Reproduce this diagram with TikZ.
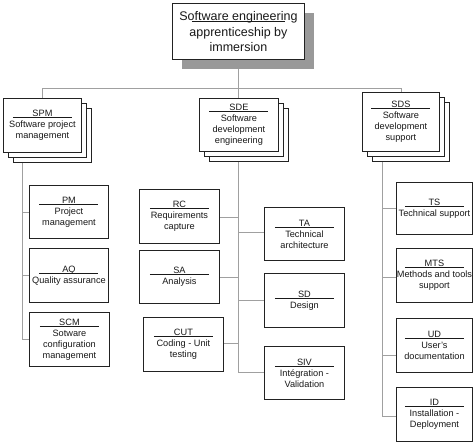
\documentclass[tikz,border=0pt]{standalone}
\usepackage{fontspec}
\setmainfont{Liberation Sans}
\usetikzlibrary{shadows,backgrounds}
\definecolor{boxc}{HTML}{222222}
\definecolor{connc}{HTML}{A0A0A0}
\definecolor{shadc}{HTML}{999999}
\newcommand{\ttl}[2][59pt]{\leavevmode\rlap{\rule[-1.4pt]{#1}{0.8pt}}\makebox[#1]{#2}}
\begin{document}
\begin{tikzpicture}[x=1pt,y=-1pt,
  box/.style={draw=boxc, fill=white, line width=0.9pt, inner sep=0pt, align=center,
    anchor=north west, font=\fontsize{9.2}{11}\selectfont, text=black!90},
  stackbox/.style={box, double copy shadow={shadow xshift=4.8pt, shadow yshift=-4.8pt,
    draw=boxc, fill=white, line width=0.9pt}},
  topbox/.style={box, font=\fontsize{12.5}{14.5}\selectfont,
    drop shadow={shadow xshift=10pt, shadow yshift=-10pt, fill=shadc, opacity=1}},
  conn/.style={draw=connc, line width=0.8pt},
  sz/.style 2 args={minimum width=#1pt, minimum height=#2pt}]
\useasboundingbox (0,0) rectangle (474,442);

% top
\node[topbox, sz={132}{56}] (top) at (172,3)
  {\ttl[93pt]{Software engineering}\\[2pt]apprenticeship by\\immersion};

% second level
\node[stackbox, sz={78}{54}] (spm) at (3,98) {\ttl{SPM}\\Software project\\management};
\node[stackbox, sz={79}{53}] (sde) at (199,98) {\ttl{SDE}\\Software\\development\\engineering};
\node[stackbox, sz={77}{59}] (sds) at (362,92) {\ttl{SDS}\\Software\\development\\support};

% SPM children
\node[box, sz={79}{53}] (pm) at (29,185) {\ttl{PM}\\Project\\management};
\node[box, sz={79}{54}] (aq) at (29,248) {\ttl{AQ}\\Quality assurance};
\node[box, sz={80}{54}] (scm) at (29,312) {\ttl{SCM}\\Sotware\\configuration\\management};

% SDE children
\node[box, sz={80}{54}] (rc) at (139,189) {\ttl{RC}\\Requirements\\capture};
\node[box, sz={80}{53}] (sa) at (139,250) {\ttl{SA}\\Analysis};
\node[box, sz={80}{54}] (cut) at (143,317) {\ttl{CUT}\\Coding - Unit\\testing};
\node[box, sz={80}{53}] (ta) at (264,207) {\ttl{TA}\\Technical\\architecture};
\node[box, sz={80}{54}] (sd) at (264,273) {\ttl{SD}\\Design};
\node[box, sz={80}{53}] (siv) at (264,346) {\ttl{SIV}\\Intégration -\\Validation};

% SDS children
\node[box, sz={76}{52}] (ts) at (396,182) {\ttl{TS}\\Technical support};
\node[box, sz={76}{54}] (mts) at (396,248) {\ttl{MTS}\\Methods and tools\\support};
\node[box, sz={76}{54}] (ud) at (396,318) {\ttl{UD}\\User's\\documentation};
\node[box, sz={76}{54}] (id) at (396,387) {\ttl{ID}\\Installation -\\Deployment};

\begin{scope}[on background layer]
  \coordinate (hy) at (0,88);
  \draw[conn] (spm.north) -- (spm.north |- hy) -- (sds.north |- hy) -- (sds.north);
  \draw[conn] (top.south) -- (top.south |- hy);
  % SPM bus
  \coordinate (spmb) at (22,339);
  \draw[conn] (spmb |- spm.center) -- (spmb);
  \foreach \n/\y in {pm/212, aq/275, scm/339} {
    \coordinate (j) at (22,\y);
    \draw[conn] (j) -- (j -| \n.west);
  }
  % SDE bus
  \coordinate (sdeb) at (238,372);
  \draw[conn] (sdeb |- hy) -- (sdeb);
  \foreach \n/\y in {rc/217, sa/277, cut/343} {
    \coordinate (j) at (238,\y);
    \draw[conn] (j) -- (j -| \n.east);
  }
  \foreach \n/\y in {ta/232, sd/300, siv/372} {
    \coordinate (j) at (238,\y);
    \draw[conn] (j) -- (j -| \n.west);
  }
  % SDS bus
  \coordinate (sdsb) at (382,416);
  \draw[conn] (sdsb |- sds.center) -- (sdsb);
  \foreach \n/\y in {ts/208, mts/277, ud/355, id/416} {
    \coordinate (j) at (382,\y);
    \draw[conn] (j) -- (j -| \n.west);
  }
\end{scope}
\end{tikzpicture}
\end{document}
